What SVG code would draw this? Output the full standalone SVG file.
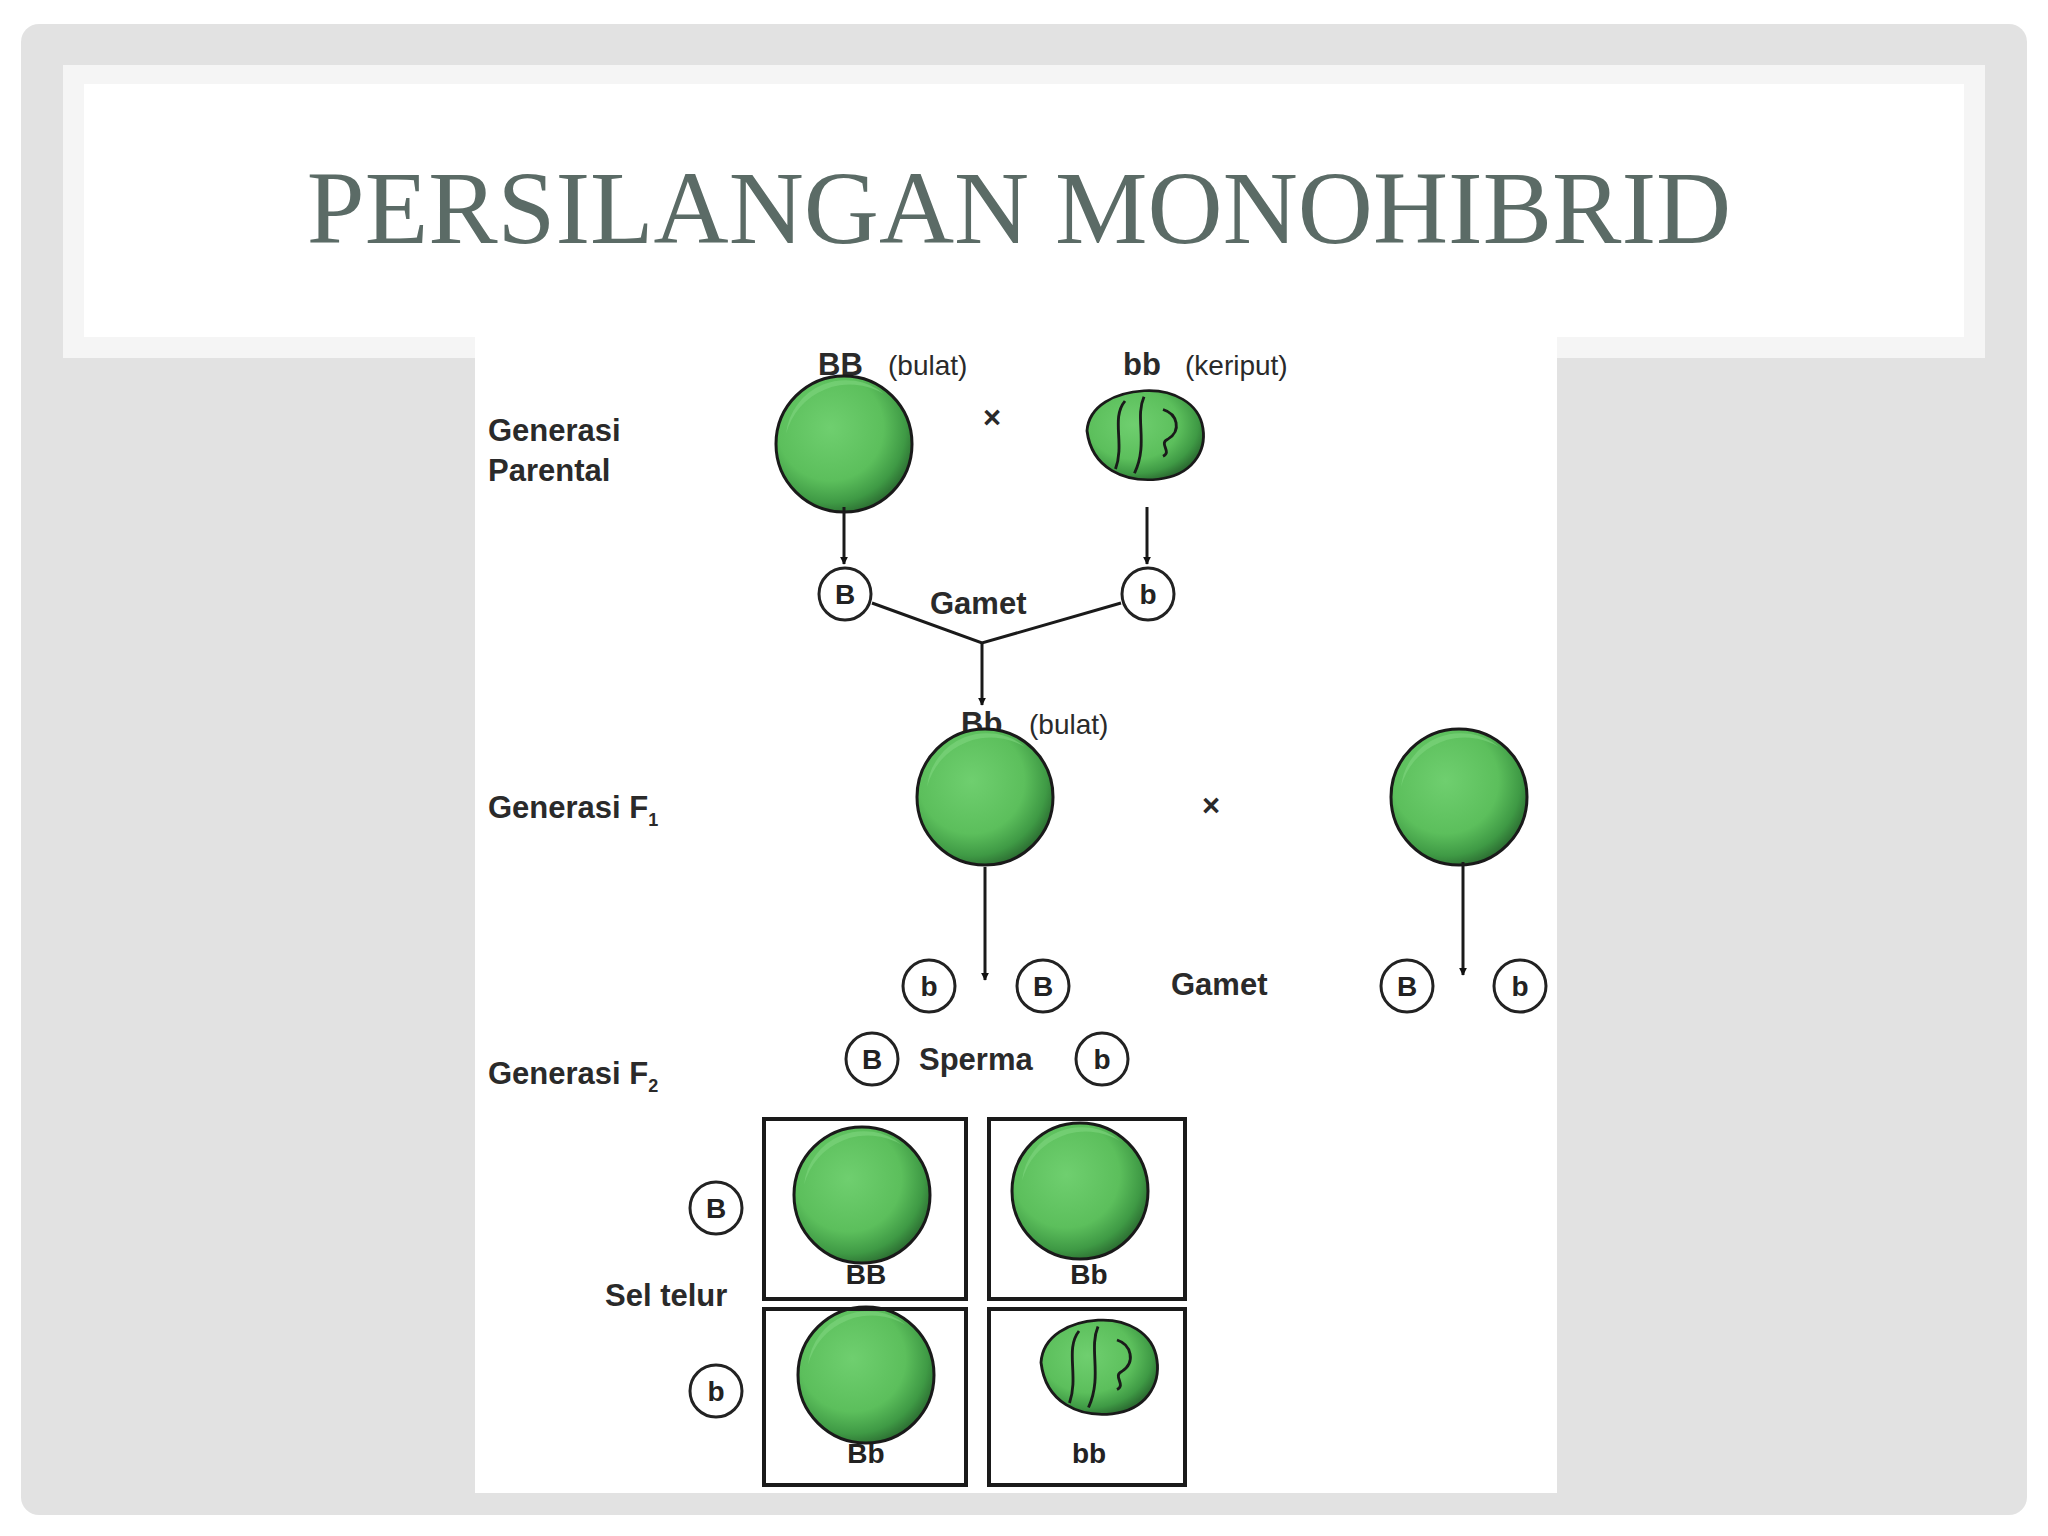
<svg xmlns="http://www.w3.org/2000/svg" width="2048" height="1536" viewBox="0 0 2048 1536">
<defs>
<radialGradient id="pea" cx="0.4" cy="0.38" r="0.65">
<stop offset="0" stop-color="#6fcf6f"/><stop offset="0.6" stop-color="#5cbf5c"/><stop offset="0.85" stop-color="#3f9a45"/><stop offset="1" stop-color="#2c6e32"/>
</radialGradient>
<marker id="ah" viewBox="0 0 10 10" refX="9" refY="5" markerWidth="8" markerHeight="8" orient="auto" markerUnits="userSpaceOnUse"><path d="M0,0 L10,5 L0,10 z" fill="#111"/></marker>
<style>
.t{font-family:"Liberation Sans",Arial,sans-serif;font-weight:bold;font-size:31px;fill:#2a2a2a}
.s{font-family:"Liberation Sans",Arial,sans-serif;font-size:28px;fill:#2a2a2a}
.g{fill:#fff;stroke:#222;stroke-width:3}
.gt{font-family:"Liberation Sans",Arial,sans-serif;font-weight:bold;font-size:28px;fill:#222;text-anchor:middle}
.pea{fill:url(#pea);stroke:#1a1a1a;stroke-width:3}
.box{fill:none;stroke:#1a1a1a;stroke-width:4}
.ln{stroke:#1a1a1a;stroke-width:3;fill:none}
</style>
<g id="peaR"><circle r="68" class="pea"/><path d="M-58,-10 A60,60 0 0 1 40,-50 A66,66 0 0 0 -58,-10z" fill="#7fd67f" opacity="0.6"/></g>
<g id="peaW"><path d="M-60,-5 C-58,-35 -30,-50 0,-52 C30,-54 58,-38 62,-8 C66,20 50,48 15,52 C-20,56 -55,40 -60,-5z" class="pea"/><path d="M-20,-40 C-35,-20 -20,10 -30,40 M0,-45 C-10,-20 5,10 -10,45 M20,-30 C35,-25 40,-5 25,5 C15,10 30,20 20,25" class="ln" stroke-width="2.5"/></g>
</defs>
<rect width="2048" height="1536" fill="#fff"/>
<rect x="21" y="24" width="2006" height="1491" rx="18" fill="#e2e2e2"/>
<rect x="63" y="65" width="1922" height="293" fill="#f5f5f5"/>
<rect x="84" y="84" width="1880" height="253" fill="#fff"/>
<text x="1019" y="243" text-anchor="middle" font-family="Liberation Serif,Times New Roman,serif" font-size="104" fill="#5b6b66">PERSILANGAN MONOHIBRID</text>
<rect x="475" y="333" width="1082" height="1160" fill="#fff"/>
<g id="labels">
<text class="t" x="818" y="375">BB</text><text class="s" x="888" y="375">(bulat)</text>
<text class="t" x="1123" y="375">bb</text><text class="s" x="1185" y="375">(keriput)</text>
<text class="t" x="488" y="441">Generasi</text><text class="t" x="488" y="481">Parental</text>
<text class="t" x="983" y="428">×</text>
<text class="t" x="930" y="614">Gamet</text>
<text class="t" x="961" y="734">Bb</text><text class="s" x="1029" y="734">(bulat)</text>
<text class="t" x="488" y="818">Generasi F<tspan font-size="18" dy="8">1</tspan></text>
<text class="t" x="1202" y="816">×</text>
<text class="t" x="1171" y="995">Gamet</text>
<text class="t" x="488" y="1084">Generasi F<tspan font-size="18" dy="8">2</tspan></text>
<text class="t" x="919" y="1070">Sperma</text>
<text class="t" x="605" y="1306">Sel telur</text>
<text class="gt" x="866" y="1284">BB</text><text class="gt" x="1089" y="1284">Bb</text>
<text class="gt" x="866" y="1463">Bb</text><text class="gt" x="1089" y="1463">bb</text>
</g>
<g id="gametes">
<g transform="translate(845,594)"><circle r="26" class="g"/><text class="gt" y="10">B</text></g>
<g transform="translate(1148,594)"><circle r="26" class="g"/><text class="gt" y="10">b</text></g>
<g transform="translate(929,986)"><circle r="26" class="g"/><text class="gt" y="10">b</text></g>
<g transform="translate(1043,986)"><circle r="26" class="g"/><text class="gt" y="10">B</text></g>
<g transform="translate(1407,986)"><circle r="26" class="g"/><text class="gt" y="10">B</text></g>
<g transform="translate(1520,986)"><circle r="26" class="g"/><text class="gt" y="10">b</text></g>
<g transform="translate(872,1059)"><circle r="26" class="g"/><text class="gt" y="10">B</text></g>
<g transform="translate(1102,1059)"><circle r="26" class="g"/><text class="gt" y="10">b</text></g>
<g transform="translate(716,1208)"><circle r="26" class="g"/><text class="gt" y="10">B</text></g>
<g transform="translate(716,1391)"><circle r="26" class="g"/><text class="gt" y="10">b</text></g>
</g>
<g id="peas">
<use href="#peaR" x="844" y="444"/>
<use href="#peaW" x="1144" y="435" transform="translate(1144,435) scale(0.95 0.85) translate(-1144,-435)"/>
<use href="#peaR" x="985" y="797"/>
<use href="#peaR" x="1459" y="797"/>
<use href="#peaR" x="862" y="1195"/>
<use href="#peaR" x="1080" y="1191"/>
<use href="#peaR" x="866" y="1375"/>
<use href="#peaW" x="1098" y="1367" transform="translate(1098,1367) scale(0.95 0.9) translate(-1098,-1367)"/>
</g>
<g id="punnett">
<rect class="box" x="764" y="1119" width="202" height="180"/>
<rect class="box" x="989" y="1119" width="196" height="180"/>
<rect class="box" x="764" y="1309" width="202" height="176"/>
<rect class="box" x="989" y="1309" width="196" height="176"/>
</g>
<g id="connectors" class="ln">
<line x1="844" y1="507" x2="844" y2="564" marker-end="url(#ah)"/>
<line x1="1147" y1="507" x2="1147" y2="564" marker-end="url(#ah)"/>
<polyline points="872,603 982,643 1121,603"/>
<line x1="982" y1="643" x2="982" y2="705" marker-end="url(#ah)"/>
<line x1="985" y1="867" x2="985" y2="980" marker-end="url(#ah)"/>
<line x1="1463" y1="862" x2="1463" y2="975" marker-end="url(#ah)"/>
</g>
</svg>
